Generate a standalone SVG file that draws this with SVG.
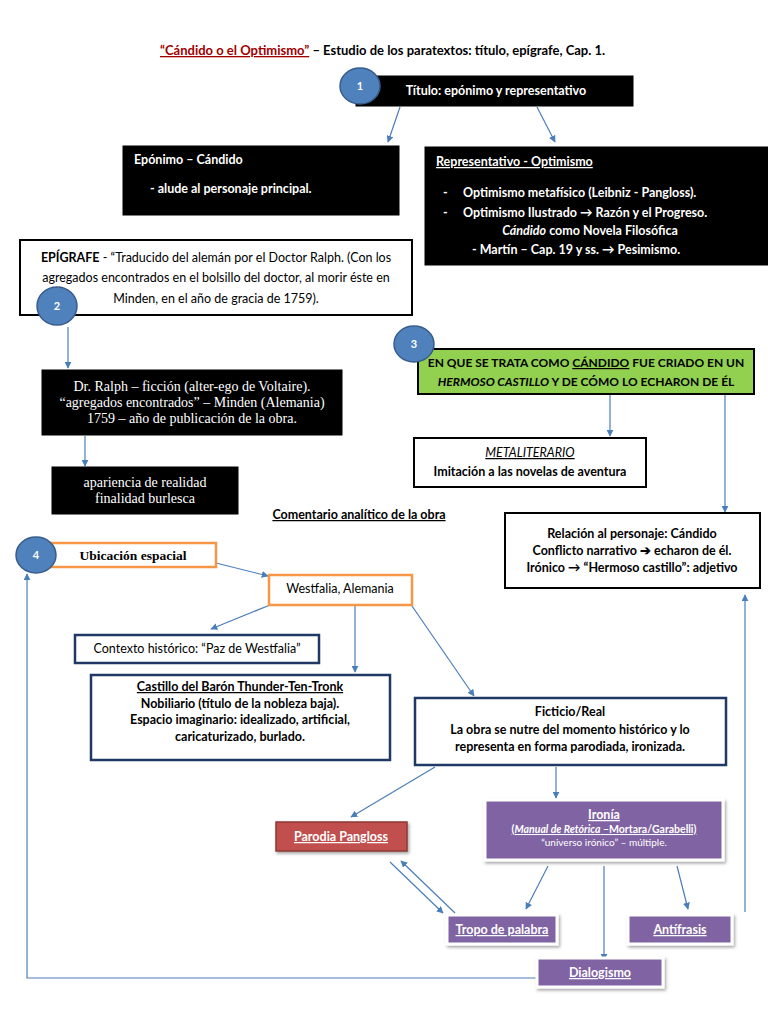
<svg xmlns="http://www.w3.org/2000/svg" width="768" height="1024" viewBox="0 0 768 1024">
<style>
text{font-family:Lato,"Liberation Sans",sans-serif;font-size:12.5px;font-weight:bold;fill:#000}
.w{fill:#fff}
.c{text-anchor:middle}
.n{font-weight:normal}
.s{font-family:"Liberation Serif",serif;font-weight:normal;font-size:14px}
.u{text-decoration:underline}
.blk{fill:#000;stroke:#000}
.bw{fill:#fff;stroke:#000;stroke-width:2}
.org{fill:#fff;stroke:#f79646;stroke-width:2.5}
.nav{fill:#fff;stroke:#1f3864;stroke-width:2.5}
.pur{fill:#8064a2;stroke:#fff;stroke-width:3}
.circ{fill:#4f81bd;stroke:#385d8a;stroke-width:1.5}
.cn{fill:#fff;font-size:11px}
.ln{fill:none;stroke:#4a7ebb;stroke-width:1.2}
</style>
<defs>
<marker id="a" viewBox="0 0 10 10" refX="9" refY="5" markerWidth="7" markerHeight="7" orient="auto" markerUnits="userSpaceOnUse">
<path d="M0,0 L10,5 L0,10 z" fill="#4a7ebb"/>
</marker>
<filter id="sh" x="-10%" y="-20%" width="125%" height="150%">
<feDropShadow dx="1.5" dy="2" stdDeviation="1.5" flood-color="#000" flood-opacity="0.35"/>
</filter>
</defs>
<rect width="768" height="1024" fill="#fff"/>

<text x="160" y="55" style="font-size:13px"><tspan fill="#a00000" class="u">“Cándido o el Optimismo”</tspan> – Estudio de los paratextos: título, epígrafe, Cap. 1.</text>

<g id="connectors">
<line class="ln" x1="400" y1="107" x2="388" y2="142" marker-end="url(#a)"/>
<line class="ln" x1="537" y1="107" x2="555" y2="142" marker-end="url(#a)"/>
<line class="ln" x1="68" y1="327" x2="68" y2="368" marker-end="url(#a)"/>
<line class="ln" x1="85" y1="436" x2="85" y2="466" marker-end="url(#a)"/>
<line class="ln" x1="610" y1="395" x2="610" y2="436" marker-end="url(#a)"/>
<line class="ln" x1="725" y1="395" x2="725" y2="512" marker-end="url(#a)"/>
<line class="ln" x1="216" y1="563" x2="268" y2="576" marker-end="url(#a)"/>
<line class="ln" x1="270" y1="605" x2="211" y2="629" marker-end="url(#a)"/>
<line class="ln" x1="355" y1="606" x2="355" y2="672" marker-end="url(#a)"/>
<line class="ln" x1="412" y1="606" x2="474" y2="696" marker-end="url(#a)"/>
<line class="ln" x1="435" y1="767" x2="351" y2="817" marker-end="url(#a)"/>
<line class="ln" x1="556" y1="767" x2="556" y2="798" marker-end="url(#a)"/>
<line class="ln" x1="548" y1="866" x2="526" y2="909" marker-end="url(#a)"/>
<line class="ln" x1="604" y1="866" x2="604" y2="960" marker-end="url(#a)"/>
<line class="ln" x1="677" y1="866" x2="688" y2="909" marker-end="url(#a)"/>
<line class="ln" x1="390" y1="862" x2="443" y2="913" marker-end="url(#a)"/>
<line class="ln" x1="455" y1="913" x2="401" y2="861" marker-end="url(#a)"/>
<polyline class="ln" points="745,912 745,595" marker-end="url(#a)"/>
<polyline class="ln" points="537,978 27,978 27,574" marker-end="url(#a)"/>
</g>

<g id="n1">
<rect class="blk" x="356" y="76" width="277" height="30"/>
<text class="w c" x="496" y="95">Título: epónimo y representativo</text>
<ellipse class="circ" cx="360" cy="86" rx="20" ry="18"/>
<text class="cn c" x="360" y="90">1</text>
</g>

<g id="eponimo">
<rect class="blk" x="123" y="146" width="276" height="69"/>
<text class="w" x="134" y="164">Epónimo – Cándido</text>
<text class="w" x="150" y="193">-  alude al personaje principal.</text>
</g>

<g id="representativo">
<rect class="blk" x="425" y="147" width="348" height="118"/>
<text class="w u" x="436" y="166">Representativo - Optimismo</text>
<text class="w" x="443" y="197">-</text>
<text class="w" x="463" y="197">Optimismo metafísico (Leibniz - Pangloss).</text>
<text class="w" x="443" y="217">-</text>
<text class="w" x="463" y="217">Optimismo Ilustrado → Razón y el Progreso.</text>
<text class="w c" x="590" y="235"><tspan font-style="italic">Cándido</tspan> como Novela Filosófica</text>
<text class="w" x="472" y="254">- Martín – Cap. 19 y ss. → Pesimismo.</text>
</g>

<g id="epigrafe">
<rect class="bw" x="20" y="240" width="392" height="75"/>
<text class="c n" x="216" y="262"><tspan style="font-weight:bold">EPÍGRAFE</tspan> - “Traducido del alemán por el Doctor Ralph. (Con los</text>
<text class="c n" x="216" y="282">agregados encontrados en el bolsillo del doctor, al morir éste en</text>
<text class="c n" x="216" y="303">Minden, en el año de gracia de 1759).</text>
<ellipse class="circ" cx="57" cy="306" rx="20" ry="19"/>
<text class="cn c" x="57" y="310">2</text>
</g>

<g id="ralph">
<rect class="blk" x="42" y="370" width="300" height="65"/>
<text class="w c s" x="192" y="391">Dr. Ralph – ficción (alter-ego de Voltaire).</text>
<text class="w c s" x="192" y="407">“agregados encontrados” – Minden (Alemania)</text>
<text class="w c s" x="192" y="423">1759 – año de publicación de la obra.</text>
</g>

<g id="apariencia">
<rect class="blk" x="52" y="467" width="186" height="47"/>
<text class="w c s" x="145" y="487">apariencia de realidad</text>
<text class="w c s" x="145" y="503">finalidad burlesca</text>
</g>

<g id="n3">
<rect fill="#92d050" stroke="#000" stroke-width="2" x="418" y="349" width="336" height="45"/>
<text class="c" x="586" y="367" style="font-size:12px">EN QUE SE TRATA COMO <tspan class="u">CÁNDIDO</tspan> FUE CRIADO EN UN</text>
<text class="c" x="586" y="386" style="font-size:12px"><tspan font-style="italic">HERMOSO CASTILLO</tspan> Y DE CÓMO LO ECHARON DE ÉL</text>
<ellipse class="circ" cx="414" cy="344" rx="20" ry="18"/>
<text class="cn c" x="414" y="348">3</text>
</g>

<g id="metaliterario">
<rect class="bw" x="414" y="438" width="232" height="49"/>
<text class="c u n" x="530" y="457" font-style="italic">METALITERARIO</text>
<text class="c" x="530" y="476">Imitación a las novelas de aventura</text>
</g>

<g id="relacion">
<rect class="bw" x="505" y="513" width="255" height="75"/>
<text class="c" x="632" y="538">Relación al personaje: Cándido</text>
<text class="c" x="632" y="555">Conflicto narrativo ➔ echaron de él.</text>
<text class="c" x="632" y="572">Irónico → “Hermoso castillo”: adjetivo</text>
</g>

<text class="c u" x="359" y="519">Comentario analítico de la obra</text>

<g id="ubicacion">
<rect class="org" x="50" y="543" width="166" height="24"/>
<text class="c" x="133" y="560" style="font-family:'Liberation Serif',serif;font-size:13.5px">Ubicación espacial</text>
<ellipse class="circ" cx="36" cy="555" rx="20" ry="18"/>
<text class="cn c" x="36" y="559">4</text>
</g>

<g id="westfalia">
<rect class="org" x="269" y="575" width="143" height="30"/>
<text class="c n" x="340" y="593">Westfalia, Alemania</text>
</g>

<g id="contexto">
<rect class="nav" x="75" y="635" width="244" height="28"/>
<text class="c n" x="197" y="653">Contexto histórico: “Paz de Westfalia”</text>
</g>

<g id="castillo">
<rect class="nav" x="91" y="675" width="299" height="85"/>
<text class="c u" x="240" y="691">Castillo del Barón Thunder-Ten-Tronk</text>
<text class="c" x="240" y="708">Nobiliario (título de la nobleza baja).</text>
<text class="c" x="240" y="724">Espacio imaginario: idealizado, artificial,</text>
<text class="c" x="240" y="741">caricaturizado, burlado.</text>
</g>

<g id="ficticio">
<rect class="nav" x="415" y="698" width="311" height="67"/>
<text class="c" x="570" y="716">Ficticio/Real</text>
<text class="c" x="570" y="734">La obra se nutre del momento histórico y lo</text>
<text class="c" x="570" y="751">representa en forma parodiada, ironizada.</text>
</g>

<g id="parodia">
<rect fill="#c0504d" stroke="#8c3836" stroke-width="1.5" x="276" y="822" width="131" height="29" filter="url(#sh)"/>
<text class="w c u" x="341" y="841">Parodia Pangloss</text>
</g>

<g id="ironia">
<rect class="pur" x="485" y="800" width="238" height="60" filter="url(#sh)"/>
<text class="w c u" x="604" y="819">Ironía </text>
<text class="w c u" x="604" y="833" style="font-size:10.5px">(<tspan font-style="italic">Manual de Retórica</tspan> –Mortara/Garabelli)</text>
<text class="w c n" x="604" y="846" style="font-size:10px">“universo irónico” – múltiple.</text>
</g>

<g id="tropo">
<rect class="pur" x="447" y="915" width="110" height="29" filter="url(#sh)"/>
<text class="w c u" x="502" y="934">Tropo de palabra</text>
</g>

<g id="antifrasis">
<rect class="pur" x="628" y="915" width="104" height="29" filter="url(#sh)"/>
<text class="w c u" x="680" y="934">Antífrasis</text>
</g>

<g id="dialogismo">
<rect class="pur" x="537" y="958" width="126" height="29" filter="url(#sh)"/>
<text class="w c u" x="600" y="977">Dialogismo</text>
</g>
</svg>
